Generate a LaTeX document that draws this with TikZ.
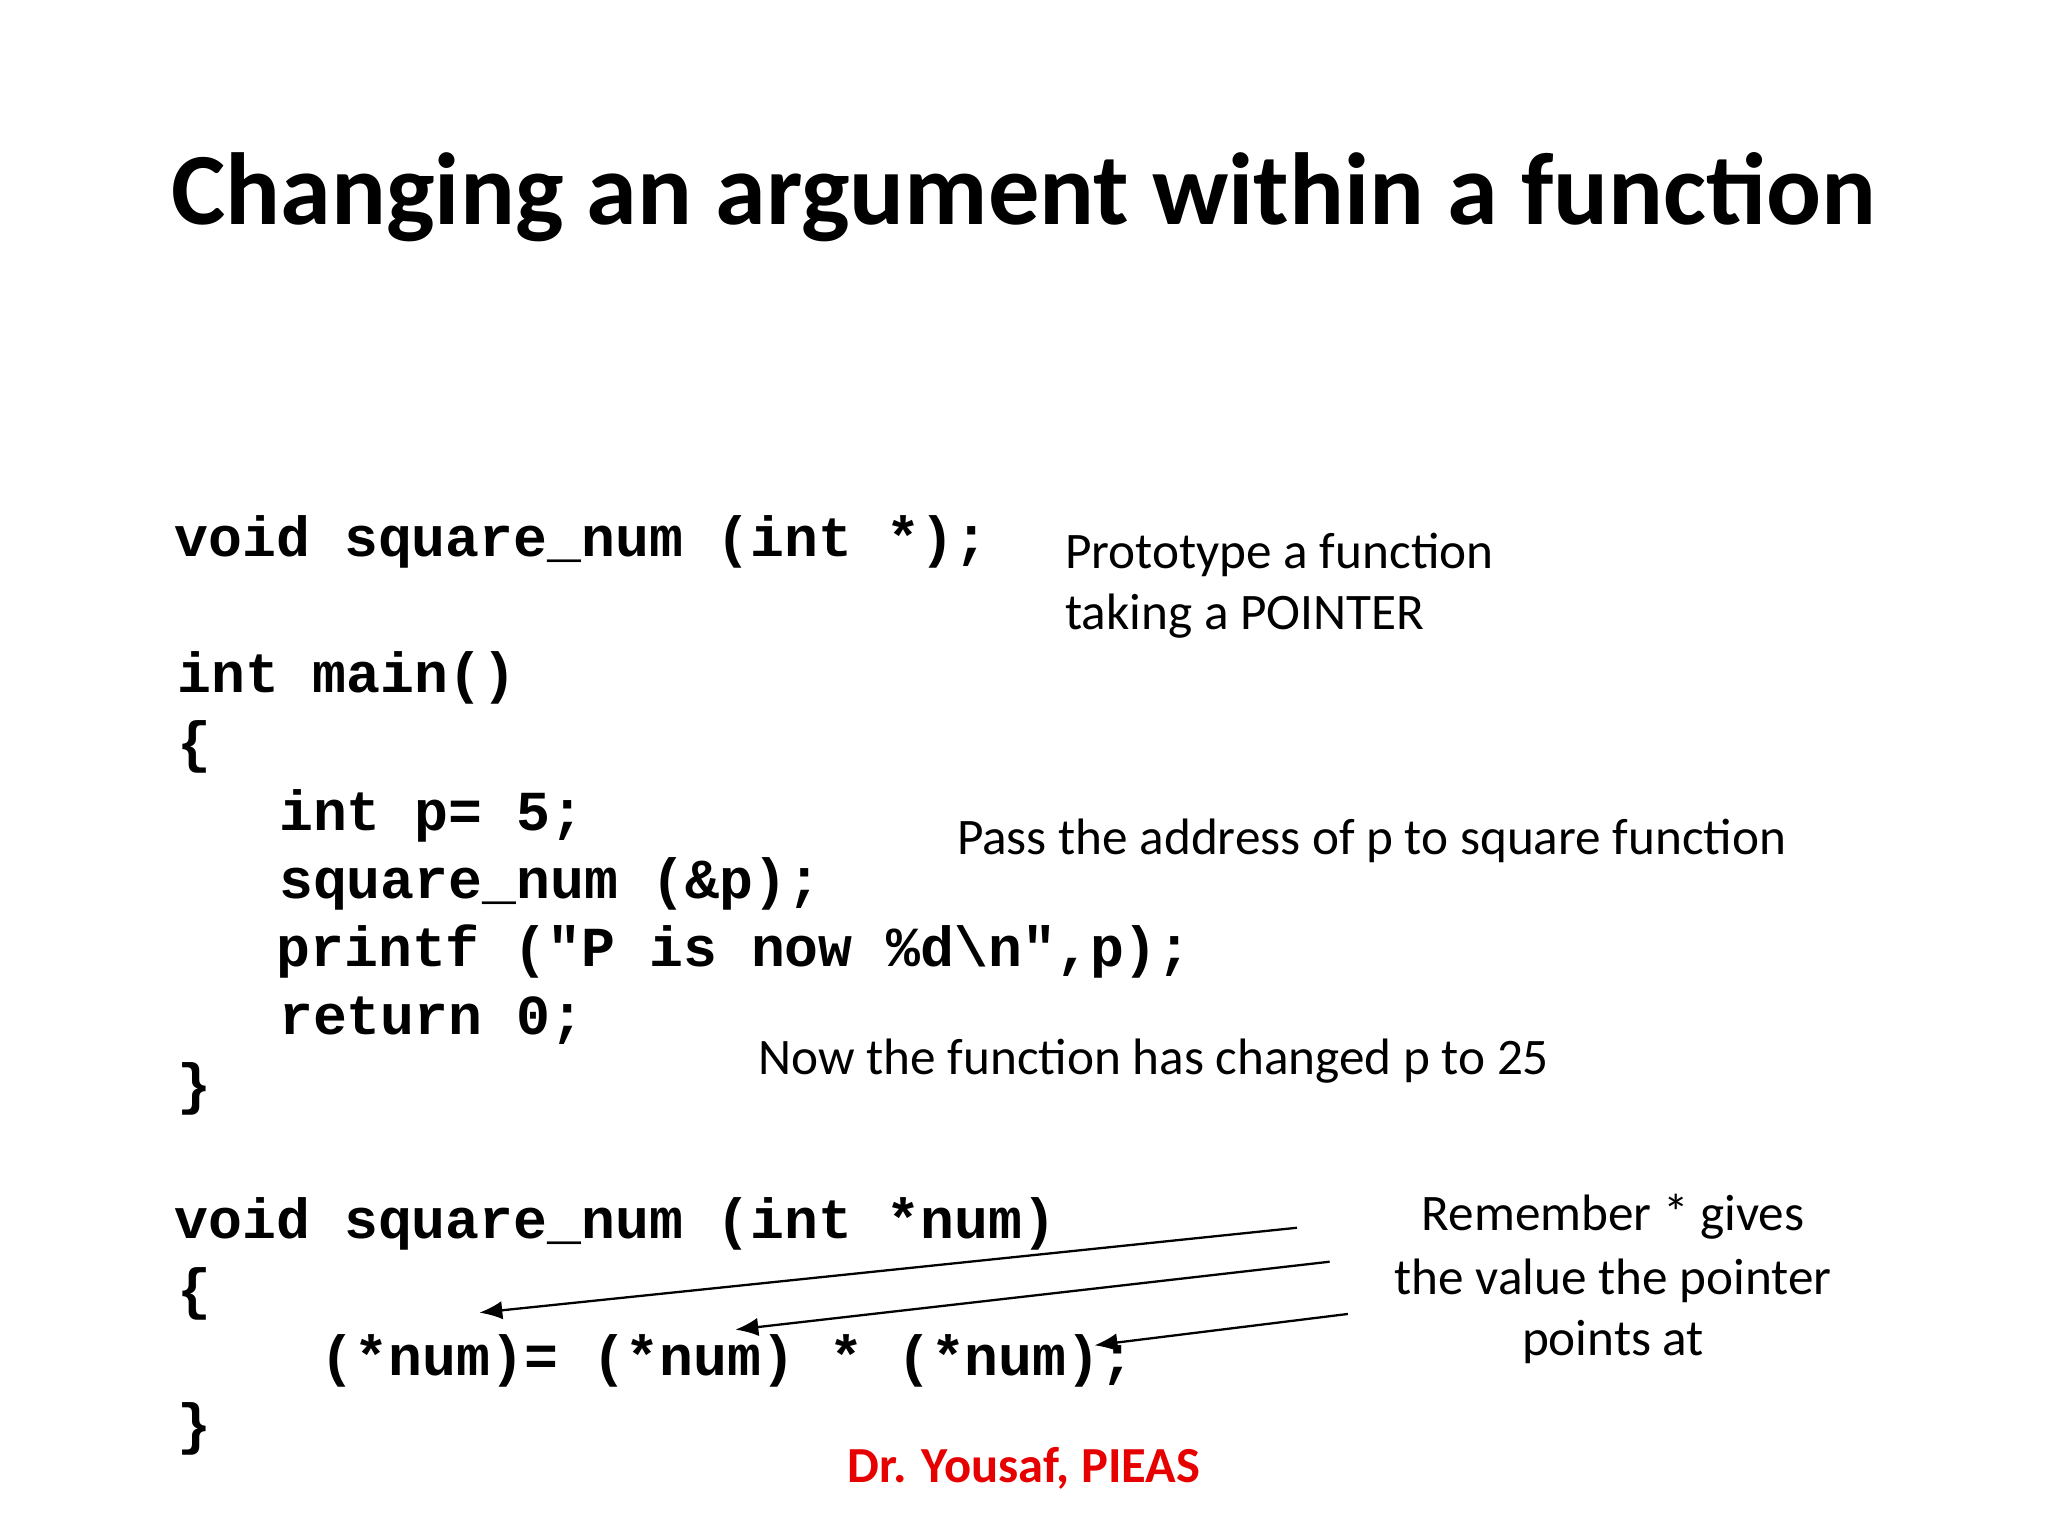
\documentclass[tikz,border=0pt]{standalone}
\usepackage{fontspec}
\setmainfont{Carlito}
\newfontfamily\codefont{Liberation Mono}
\usetikzlibrary{arrows.meta}
\begin{document}
\begin{tikzpicture}[x=0.01cm,y=-0.01cm,
  code/.style={anchor=base west,inner sep=0,font=\codefont\bfseries\fontsize{12.3}{14}\selectfont},
  note/.style={anchor=base west,inner sep=0,font=\fontsize{11.15}{13}\selectfont},
  ptr/.style={-{Latex[length=5pt,width=4pt]},line width=0.5pt}]
\useasboundingbox (0,0) rectangle (1568,1176);
\fill[white] (0,0) rectangle (1568,1176);
\node[anchor=base,inner sep=0,font=\bfseries\fontsize{22.3}{26}\selectfont] (title) at (784,172) {Changing an argument within a function};
\node[code] (l1) at (133,426) {void square\_num (int *);};
\node[code] (l2) at (135,530) {int main()};
\node[code] (l3) at (135,583) {\{};
\node[code] (l4) at (213,636) {int p= 5;};
\node[code] (l5) at (213,688) {square\_num (\&p);};
\node[code] (l6) at (211,740) {printf ("P is now \%d\textbackslash n",p);};
\node[code] (l7) at (213,792) {return 0;};
\node[code] (l8) at (135,845) {\}};
\node[code] (l9) at (133,948) {void square\_num (int *num)};
\node[code] (l10) at (135,1002) {\{};
\node[code] (l11) at (245,1053) {(*num)= (*num) * (*num);};
\node[code] (l12) at (135,1105) {\}};
\node[note] (n1) at (815,435) {Prototype a function};
\node[note] (n2) at (815,482) {taking a POINTER};
\node[note] (n3) at (732,654) {Pass the address of p to square function};
\node[note] (n4) at (580,823) {Now the function has changed p to 25};
\node[note,anchor=base] (r1) at (1235,942) {Remember * gives};
\node[note,anchor=base] (r2) at (1235,991) {the value the pointer};
\node[note,anchor=base] (r3) at (1235,1038) {points at};
\node[anchor=base,inner sep=0,text={rgb,255:red,230;green,0;blue,0},font=\bfseries\fontsize{11}{13}\selectfont] (auth) at (784,1135) {Dr. Yousaf, PIEAS};
\coordinate (s1) at (993,940); \coordinate (e1) at (367,1005);
\coordinate (s2) at (1018,966); \coordinate (e2) at (563,1018);
\coordinate (s3) at (1032,1006); \coordinate (e3) at (838,1030);
\draw[ptr] (s1) -- (e1);
\draw[ptr] (s2) -- (e2);
\draw[ptr] (s3) -- (e3);
\end{tikzpicture}
\end{document}
